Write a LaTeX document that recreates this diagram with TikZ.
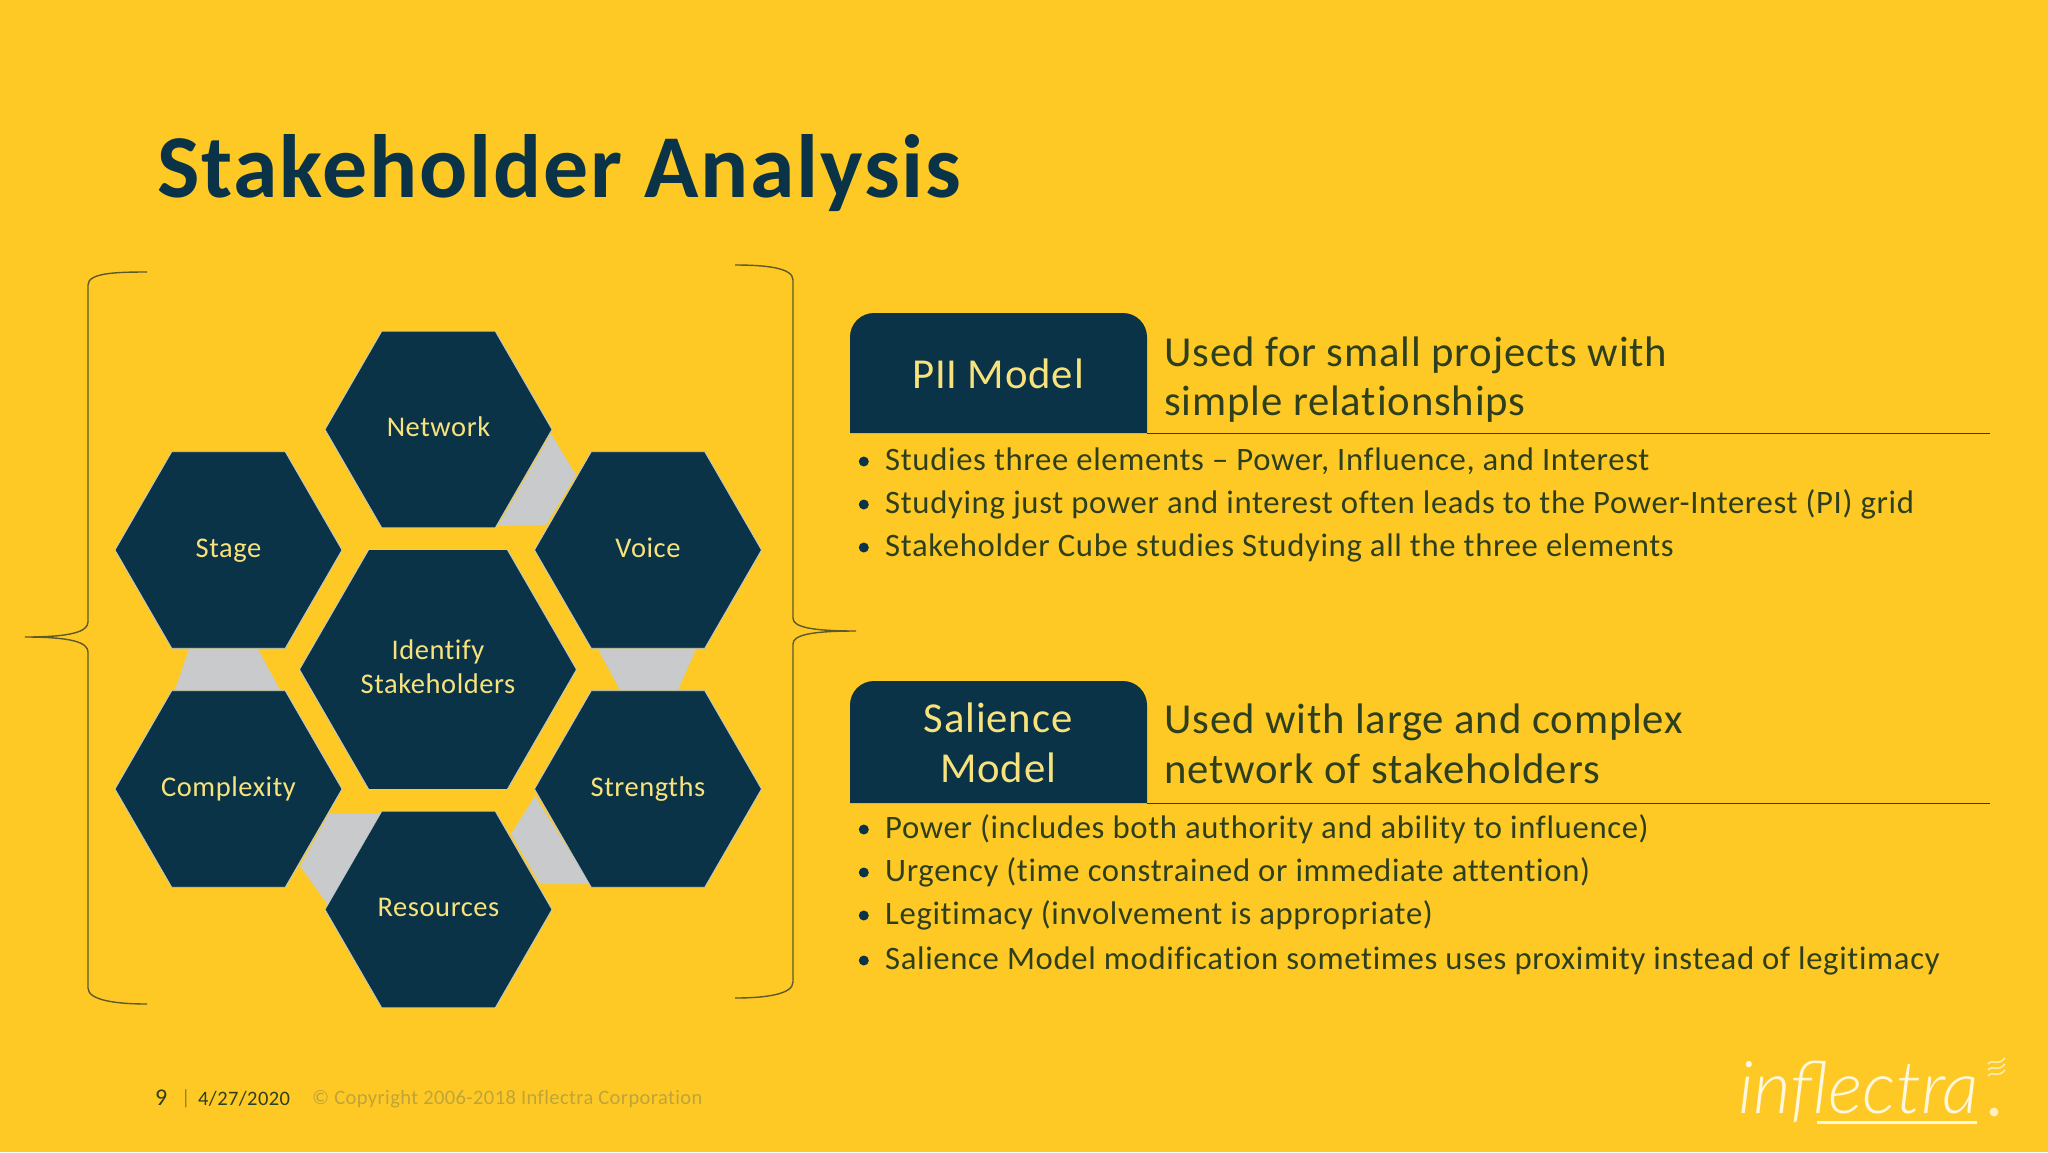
\documentclass[tikz,border=0pt]{standalone}
\usepackage{fontspec}
\usepackage{tikz}
\usetikzlibrary{shapes.geometric, positioning}
\setmainfont{Carlito}[LetterSpace=2.0, Ligatures=CommonOff]
\newfontfamily\logofont{Lato Light}
\definecolor{slidebg}{HTML}{FEC925}
\definecolor{navy}{HTML}{0A3347}
\definecolor{paleyellow}{HTML}{F8E27C}
\definecolor{linkgray}{HTML}{C9CACB}
\definecolor{bracecol}{HTML}{5C5A2C}
\definecolor{bodytext}{HTML}{2E3F1E}
\definecolor{fainttext}{HTML}{BFA43A}
\tikzstyle{hexcell}=[regular polygon, regular polygon sides=6, fill=navy, draw=white!75!navy, line width=0.8pt, inner sep=0pt, outer sep=0pt, text=paleyellow, align=center, minimum size=227pt, font=\fontsize{28.5}{34}\selectfont]
\tikzstyle{hexone}=[hexcell, text height=20.5pt, text depth=6pt]
\tikzstyle{hexlink}=[fill=linkgray]
\tikzstyle{bracket}=[draw=bracecol, line width=1.4pt]
\tikzstyle{modelbox}=[fill=navy]
\tikzstyle{modelname}=[text=paleyellow, align=center, font=\fontsize{42.7}{49.6}\selectfont]
\tikzstyle{modeluse}=[anchor=west, text=bodytext, align=left, inner sep=0pt, font=\fontsize{42.7}{49.6}\selectfont]
\tikzstyle{rowtext}=[anchor=west, text=bodytext, inner sep=0pt, font=\fontsize{32.7}{36}\selectfont]
\tikzstyle{rowdot}=[circle, fill=navy, inner sep=0pt, minimum size=10pt]
\tikzstyle{foot}=[anchor=west, inner sep=0pt, font=\fontsize{20.5}{24}\selectfont]

\begin{document}
\begin{tikzpicture}[x=1pt, y=-1pt]
    \useasboundingbox (0, 0) rectangle (2048, 1152);
    \fill[slidebg] (0, 0) rectangle (2048, 1152);

    \node[anchor=west, inner sep=0pt, text=navy, font=\fontsize{89.8}{100}\selectfont\bfseries] (title) at (157, 173) {Stakeholder Analysis};

    % grey pieces between the cells
    \fill[hexlink] (551, 434) -- (498, 526) -- (546, 525) -- (576, 475) -- cycle;
    \fill[hexlink] (189, 649) -- (258, 649) -- (280, 690) -- (175, 690) -- cycle;
    \fill[hexlink] (598, 649) -- (696, 649) -- (678, 690) -- (620, 690) -- cycle;
    \fill[hexlink] (535, 796) -- (590, 884) -- (540, 884) -- (511, 834) -- cycle;
    \fill[hexlink] (329, 814) -- (380, 814) -- (328, 905) -- (300, 866) -- cycle;

    \node[hexone] (network) at (438.5, 429.5) {Network};
    \node[hexone] (stage) at (228.5, 550) {Stage};
    \node[hexone] (voice) at (648, 550) {Voice};
    \node[hexone] (complexity) at (228.5, 789) {Complexity};
    \node[hexone] (strengths) at (648, 789) {Strengths};
    \node[hexone] (resources) at (438.5, 909.5) {Resources};
    \node[hexcell, minimum size=277pt] (identify) at (438, 669.5) {Identify\\Stakeholders\rule[-6pt]{0pt}{1pt}};

    % braces
    \draw[bracket] (147, 272) .. controls (115, 272) and (88, 273) .. (88, 285)
        -- (88, 622) .. controls (88, 632) and (70, 637) .. (25, 637)
        .. controls (70, 637) and (88, 642) .. (88, 652)
        -- (88, 988) .. controls (88, 1000) and (115, 1004) .. (147, 1004);
    \draw[bracket] (735, 265) .. controls (767, 265) and (793, 268) .. (793, 280)
        -- (793, 618) .. controls (793, 627) and (811, 631) .. (856, 631)
        .. controls (811, 631) and (793, 635) .. (793, 644)
        -- (793, 982) .. controls (793, 994) and (767, 998) .. (735, 998);

    % model headers
    \fill[modelbox] (850, 433) [rounded corners=24pt] -- (850, 313) -- (1147, 313) [sharp corners] -- (1147, 433) -- cycle;
    \node[modelname] (pii) at (998, 374) {PII Model};
    \coordinate (piirule) at (1990, 433.5);
    \draw[bodytext, line width=1.8pt] (1147, 433.5) -- (piirule);
    \node[modeluse] (piiuse) at (1164, 379.5) {Used for small projects with\\simple relationships};

    \fill[modelbox] (850, 803) [rounded corners=24pt] -- (850, 681) -- (1147, 681) [sharp corners] -- (1147, 803) -- cycle;
    \node[modelname] (salience) at (998, 743) {Salience\\Model};
    \coordinate (salrule) at (1990, 803.5);
    \draw[bodytext, line width=1.8pt] (1147, 803.5) -- (salrule);
    \node[modeluse] (saluse) at (1164, 744) {Used with large and complex\\network of stakeholders};

    \foreach \y/\rowtxt [count=\i] in {
        461.5/{Studies three elements -- Power, Influence, and Interest},
        504.5/{Studying just power and interest often leads to the Power-Interest (PI) grid},
        547.5/{Stakeholder Cube studies Studying all the three elements}} {
        \node[rowtext] (piirow\i) at (885, \y) {\rowtxt};
        \node[rowdot, left=16pt of piirow\i] (piidot\i) {};
    }
    \foreach \y/\rowtxt [count=\i] in {
        829.5/{Power (includes both authority and ability to influence)},
        872.5/{Urgency (time constrained or immediate attention)},
        915.5/{Legitimacy (involvement is appropriate)},
        960.5/{Salience Model modification sometimes uses proximity instead of legitimacy}} {
        \node[rowtext] (salrow\i) at (885, \y) {\rowtxt};
        \node[rowdot, left=16pt of salrow\i] (saldot\i) {};
    }

    % footer
    \node[foot, text=bodytext, font=\fontsize{24}{24}\selectfont] (pagenum) at (155, 1098) {9};
    \node[foot, text=fainttext!70!bodytext] (footbar) at (181, 1099) {|};
    \node[foot, text=bodytext] (footdate) at (198, 1099) {4/27/2020};
    \node[foot, text=fainttext] (footcopy) at (312, 1099) {© Copyright 2006-2018 Inflectra Corporation};

    % logo
    \node[anchor=west, inner sep=0pt, text=white!85!slidebg, font=\logofont\itshape\fontsize{73}{80}\selectfont] (logo) at (1738, 1092) {inflectra};
    \coordinate (logoend) at (1977, 1122.5);
    \draw[white!85!slidebg, line width=2.4pt] (1817, 1122.5) -- (logoend);
    \foreach \k in {0, 6, 12} {
        \draw[white!70!slidebg, line width=1.4pt] (1988, 1064+\k) .. controls (1993, 1058+\k) and (1997, 1067+\k) .. (2005, 1058+\k);
    }
    \node[circle, fill=white!70!slidebg, inner sep=0pt, minimum size=9pt] (logomark) at (1994, 1112) {};
\end{tikzpicture}
\end{document}
